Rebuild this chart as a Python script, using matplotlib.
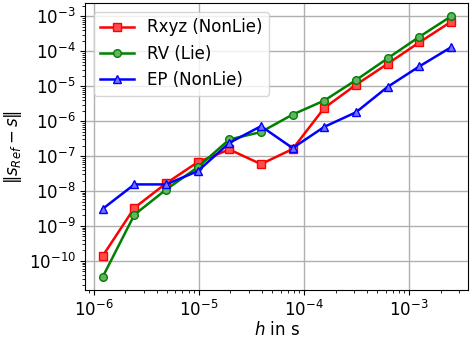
import numpy as np
import matplotlib.pyplot as plt
from matplotlib.ticker import LogLocator

# step sizes
h = 1e-2 / 2.0 ** np.arange(13, 1, -1)

# errors
err_rxyz = [1.39e-10, 3.3e-9, 1.66e-8, 6.7e-8, 1.55e-7, 5.9e-8, 1.6e-7,
            2.4e-6, 1.1e-5, 4.4e-5, 1.8e-4, 7.0e-4]
err_rv = [3.5e-11, 2.1e-9, 1.1e-8, 4.8e-8, 3.0e-7, 4.9e-7, 1.55e-6,
          3.9e-6, 1.5e-5, 6.3e-5, 2.6e-4, 1.0e-3]
err_ep = [3.1e-9, 1.55e-8, 1.55e-8, 3.7e-8, 2.4e-7, 7.2e-7, 1.7e-7,
          6.9e-7, 1.8e-6, 9.6e-6, 3.7e-5, 1.3e-4]

plt.rcParams['font.size'] = 12

fig, ax = plt.subplots(figsize=(4.74, 3.41), dpi=100)

ax.loglog(h, err_rxyz, '-s', color='red', mfc=(1, 0.3, 0.3), mec='red',
          lw=1.8, ms=5.5, label='Rxyz (NonLie)')
ax.loglog(h, err_rv, '-o', color='green', mfc=(0.4, 0.7, 0.4), mec='green',
          lw=1.8, ms=5.5, label='RV (Lie)')
ax.loglog(h, err_ep, '-^', color='blue', mfc=(0.45, 0.45, 1), mec='blue',
          lw=1.8, ms=5.5, label='EP (NonLie)')

ax.yaxis.set_major_locator(LogLocator(base=10, numticks=20))
ax.yaxis.set_minor_locator(LogLocator(base=10, subs=np.arange(2, 10), numticks=20))
ax.grid(True, which='major', color='#b0b0b0', lw=1)
ax.set_xlabel('$h$ in s', labelpad=1)
ax.set_ylabel(r'$\|s_{Ref} - s\|$', labelpad=3)
ax.legend(loc='upper left')

fig.subplots_adjust(left=0.18, right=0.988, top=0.99, bottom=0.15)
fig.savefig('out.png')
